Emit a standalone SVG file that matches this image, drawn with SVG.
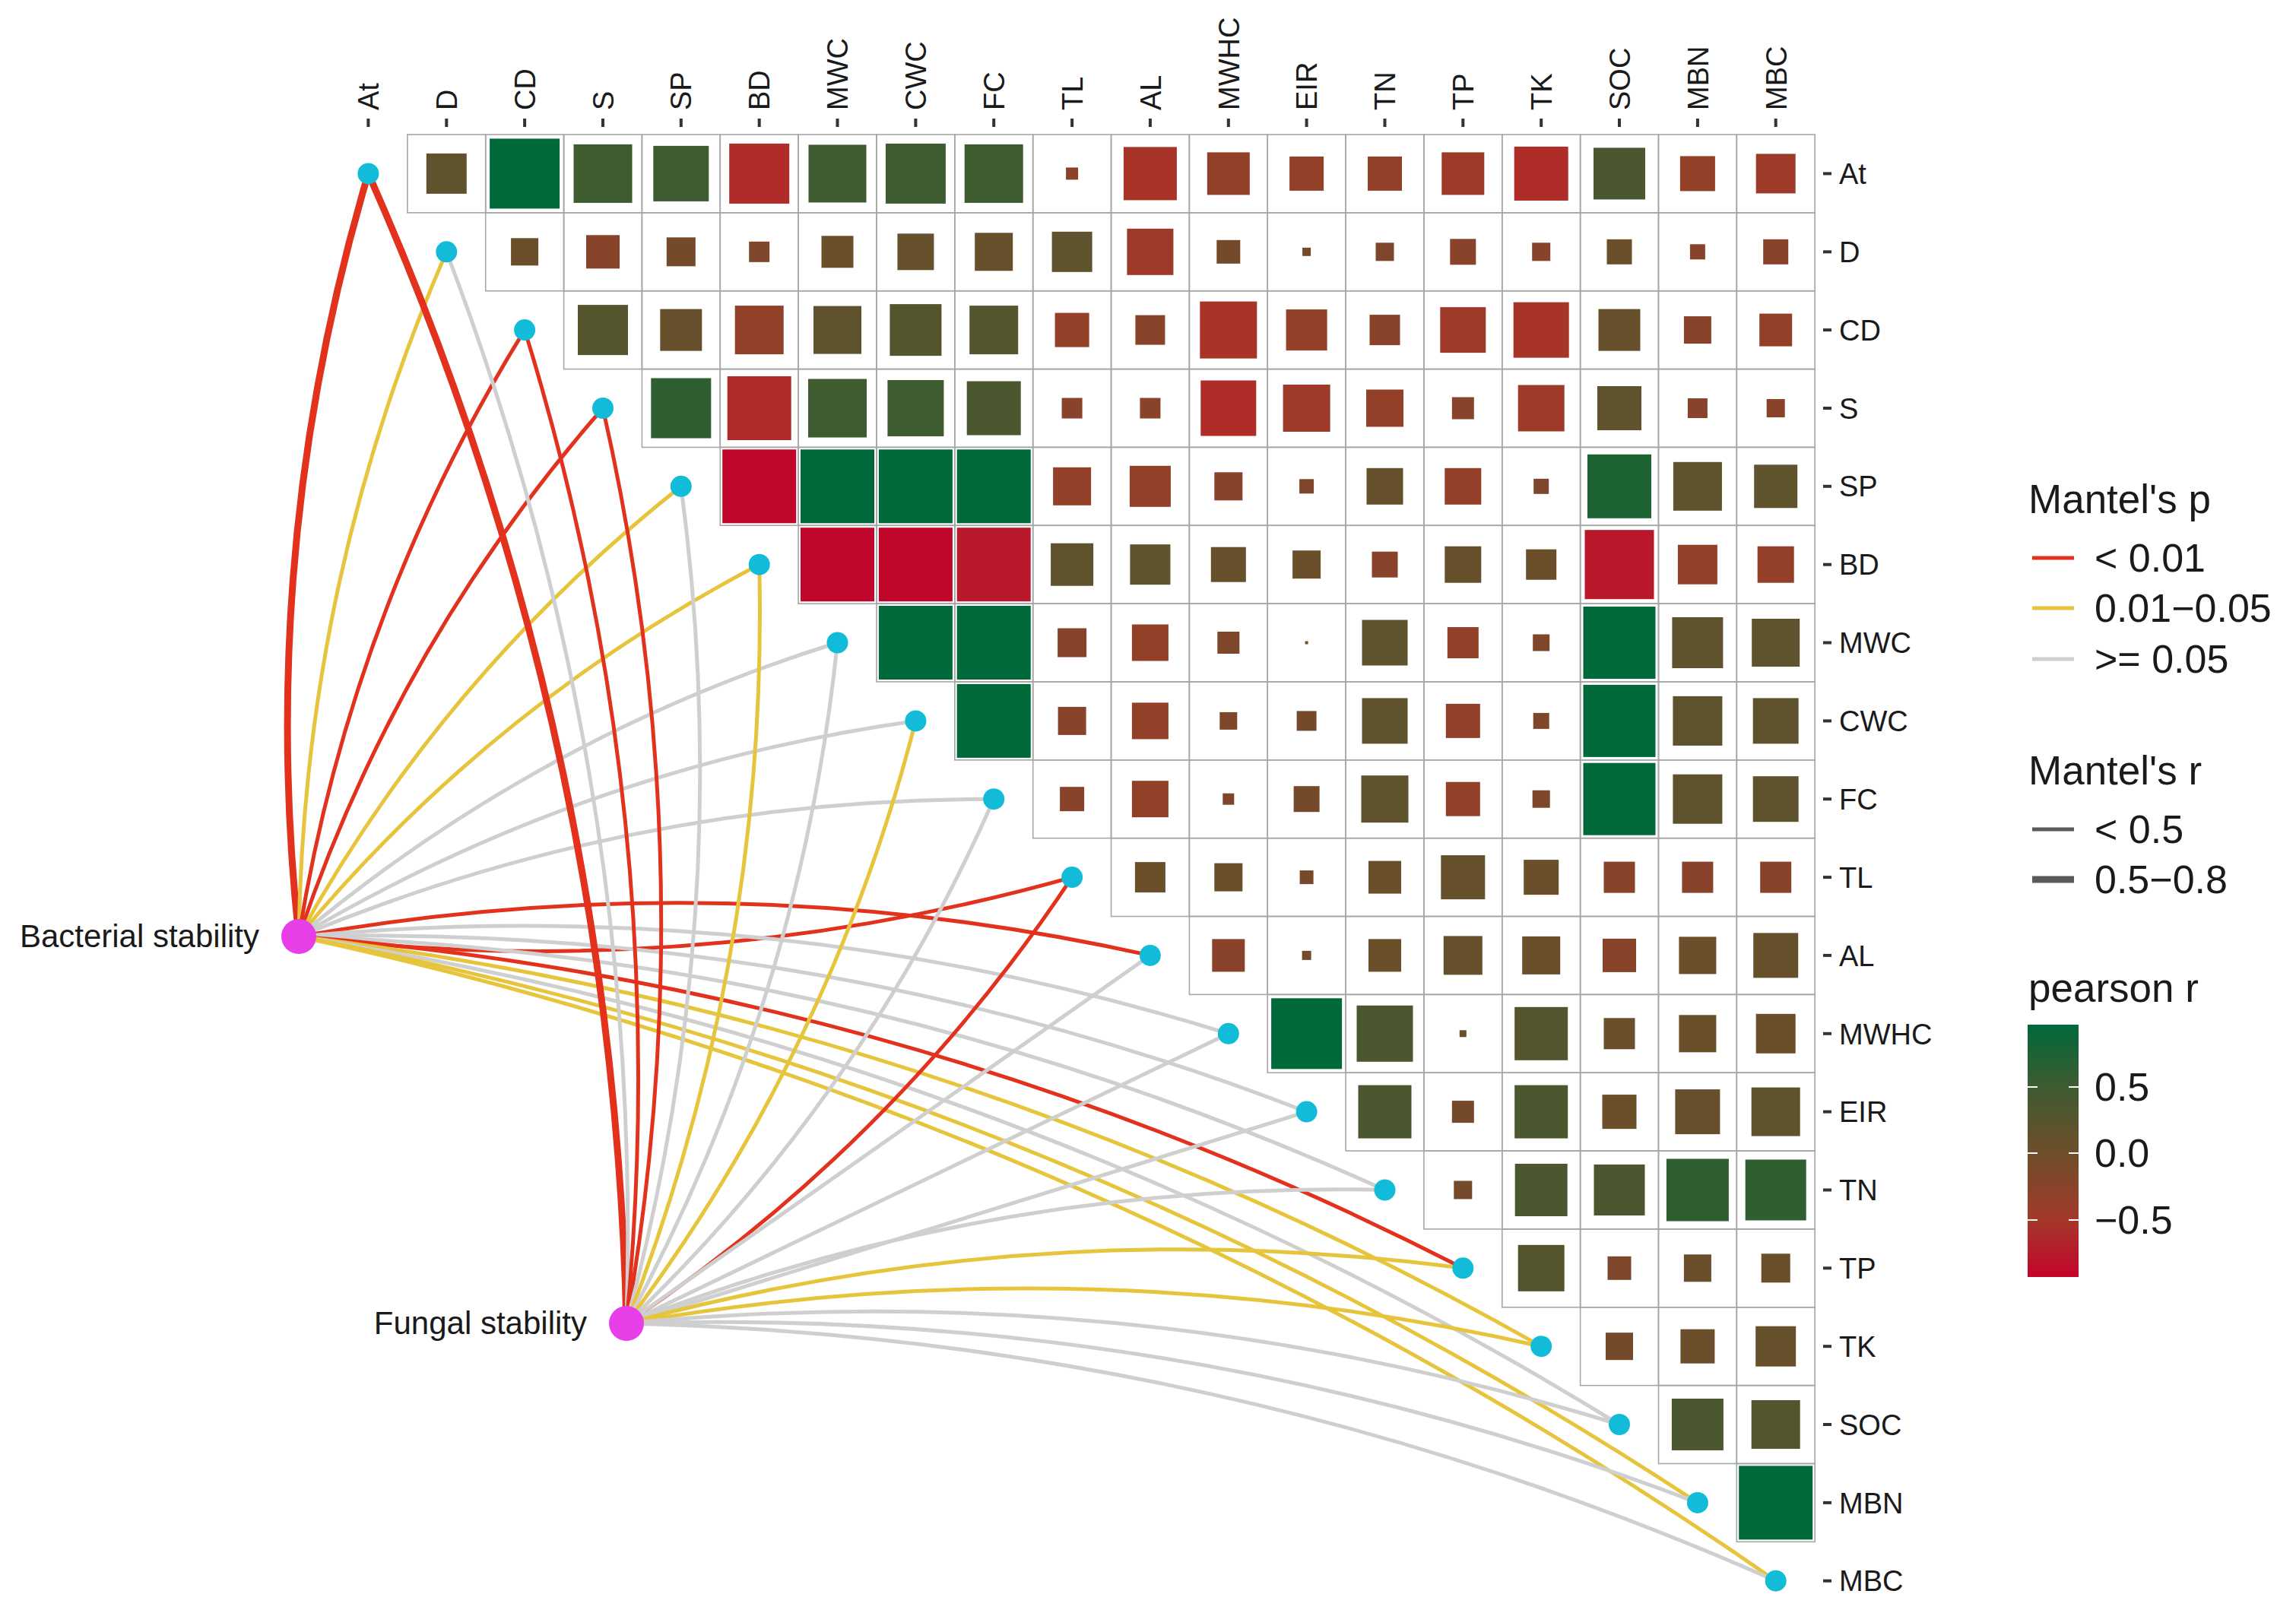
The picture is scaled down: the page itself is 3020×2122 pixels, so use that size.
<svg xmlns="http://www.w3.org/2000/svg" xmlns:xlink="http://www.w3.org/1999/xlink" width="3020" height="2122" viewBox="0 0 3020 2122">
<style>
text{font-family:"Liberation Sans",Arial,sans-serif;fill:#1a1a1a}
.lab{font-size:38px}
.leg{font-size:52px}
.ttl{font-size:53px}
.tk{stroke:#333;stroke-width:4}
.b{fill:none;stroke:#a6a6a6;stroke-width:1.6}
.e{fill:none;stroke-linecap:round}
.red{stroke:#e2321e}.yel{stroke:#e6c43c}.gry{stroke:#cfcfcf}
.w1{stroke-width:5}.w2{stroke-width:9}
.v{fill:#12bcd8}.n{fill:#e83ee8}
.G9{fill:#00693a}.G7{fill:#1d6334}.G6{fill:#2f5f31}.G5{fill:#3f5b30}.G4{fill:#4b582f}.G3{fill:#55552d}.G2{fill:#5e532c}.G1{fill:#65502b}.Z{fill:#6b4e2a}
.R1{fill:#744a2a}.R2{fill:#7e462a}.R3{fill:#88432a}.R4{fill:#934029}.R5{fill:#9e3a29}.R6{fill:#a83428}.R7{fill:#b02c28}.R8{fill:#b8182a}.R9{fill:#c0062a}
</style>
<defs>
<rect id="b" class="b" x="-51.4" y="-51.4" width="102.85" height="102.85"/>
<linearGradient id="grad" x1="0" y1="0" x2="0" y2="1">
<stop offset="0" stop-color="#00693a"/><stop offset="0.25" stop-color="#3f5b30"/><stop offset="0.51" stop-color="#6e4e2a"/><stop offset="0.77" stop-color="#a3392a"/><stop offset="1" stop-color="#c4042a"/>
</linearGradient>
</defs>
<rect width="3020" height="2122" fill="#fff"/>

<g id="matrix">
<g transform="translate(587.3 228.4)"><use href="#b"/><rect class="G2" x="-26.5" y="-26.5" width="53" height="53"/></g>
<g transform="translate(690.1 228.4)"><use href="#b"/><rect class="G9" x="-46" y="-46" width="92" height="92"/></g>
<g transform="translate(793 228.4)"><use href="#b"/><rect class="G5" x="-38.5" y="-38.5" width="77" height="77"/></g>
<g transform="translate(895.8 228.4)"><use href="#b"/><rect class="G5" x="-36.5" y="-36.5" width="73" height="73"/></g>
<g transform="translate(998.7 228.4)"><use href="#b"/><rect class="R7" x="-39.5" y="-39.5" width="79" height="79"/></g>
<g transform="translate(1101.5 228.4)"><use href="#b"/><rect class="G5" x="-38" y="-38" width="76" height="76"/></g>
<g transform="translate(1204.4 228.4)"><use href="#b"/><rect class="G5" x="-39.5" y="-39.5" width="79" height="79"/></g>
<g transform="translate(1307.2 228.4)"><use href="#b"/><rect class="G5" x="-38.5" y="-38.5" width="77" height="77"/></g>
<g transform="translate(1410.1 228.4)"><use href="#b"/><rect class="R3" x="-8" y="-8" width="16" height="16"/></g>
<g transform="translate(1512.9 228.4)"><use href="#b"/><rect class="R6" x="-35" y="-35" width="70" height="70"/></g>
<g transform="translate(1615.8 228.4)"><use href="#b"/><rect class="R4" x="-28" y="-28" width="56" height="56"/></g>
<g transform="translate(1718.6 228.4)"><use href="#b"/><rect class="R4" x="-22.5" y="-22.5" width="45" height="45"/></g>
<g transform="translate(1821.5 228.4)"><use href="#b"/><rect class="R4" x="-22.5" y="-22.5" width="45" height="45"/></g>
<g transform="translate(1924.3 228.4)"><use href="#b"/><rect class="R5" x="-28" y="-28" width="56" height="56"/></g>
<g transform="translate(2027.2 228.4)"><use href="#b"/><rect class="R7" x="-35.5" y="-35.5" width="71" height="71"/></g>
<g transform="translate(2130 228.4)"><use href="#b"/><rect class="G4" x="-34" y="-34" width="68" height="68"/></g>
<g transform="translate(2232.9 228.4)"><use href="#b"/><rect class="R4" x="-23" y="-23" width="46" height="46"/></g>
<g transform="translate(2335.7 228.4)"><use href="#b"/><rect class="R5" x="-26" y="-26" width="52" height="52"/></g>
<g transform="translate(690.1 331.3)"><use href="#b"/><rect class="Z" x="-18" y="-18" width="36" height="36"/></g>
<g transform="translate(793 331.3)"><use href="#b"/><rect class="R3" x="-22" y="-22" width="44" height="44"/></g>
<g transform="translate(895.8 331.3)"><use href="#b"/><rect class="R1" x="-19" y="-19" width="38" height="38"/></g>
<g transform="translate(998.7 331.3)"><use href="#b"/><rect class="R2" x="-13.5" y="-13.5" width="27" height="27"/></g>
<g transform="translate(1101.5 331.3)"><use href="#b"/><rect class="Z" x="-21" y="-21" width="42" height="42"/></g>
<g transform="translate(1204.4 331.3)"><use href="#b"/><rect class="G1" x="-24" y="-24" width="48" height="48"/></g>
<g transform="translate(1307.2 331.3)"><use href="#b"/><rect class="G1" x="-25" y="-25" width="50" height="50"/></g>
<g transform="translate(1410.1 331.3)"><use href="#b"/><rect class="G2" x="-26.5" y="-26.5" width="53" height="53"/></g>
<g transform="translate(1512.9 331.3)"><use href="#b"/><rect class="R5" x="-30.5" y="-30.5" width="61" height="61"/></g>
<g transform="translate(1615.8 331.3)"><use href="#b"/><rect class="R1" x="-15.5" y="-15.5" width="31" height="31"/></g>
<g transform="translate(1718.6 331.3)"><use href="#b"/><rect class="R1" x="-5.5" y="-5.5" width="11" height="11"/></g>
<g transform="translate(1821.5 331.3)"><use href="#b"/><rect class="R2" x="-12" y="-12" width="24" height="24"/></g>
<g transform="translate(1924.3 331.3)"><use href="#b"/><rect class="R3" x="-17" y="-17" width="34" height="34"/></g>
<g transform="translate(2027.2 331.3)"><use href="#b"/><rect class="R3" x="-12" y="-12" width="24" height="24"/></g>
<g transform="translate(2130 331.3)"><use href="#b"/><rect class="Z" x="-16.5" y="-16.5" width="33" height="33"/></g>
<g transform="translate(2232.9 331.3)"><use href="#b"/><rect class="R3" x="-10" y="-10" width="20" height="20"/></g>
<g transform="translate(2335.7 331.3)"><use href="#b"/><rect class="R3" x="-16.5" y="-16.5" width="33" height="33"/></g>
<g transform="translate(793 434.1)"><use href="#b"/><rect class="G3" x="-33" y="-33" width="66" height="66"/></g>
<g transform="translate(895.8 434.1)"><use href="#b"/><rect class="G1" x="-27.5" y="-27.5" width="55" height="55"/></g>
<g transform="translate(998.7 434.1)"><use href="#b"/><rect class="R4" x="-32" y="-32" width="64" height="64"/></g>
<g transform="translate(1101.5 434.1)"><use href="#b"/><rect class="G2" x="-31.5" y="-31.5" width="63" height="63"/></g>
<g transform="translate(1204.4 434.1)"><use href="#b"/><rect class="G3" x="-34" y="-34" width="68" height="68"/></g>
<g transform="translate(1307.2 434.1)"><use href="#b"/><rect class="G3" x="-32" y="-32" width="64" height="64"/></g>
<g transform="translate(1410.1 434.1)"><use href="#b"/><rect class="R4" x="-22.5" y="-22.5" width="45" height="45"/></g>
<g transform="translate(1512.9 434.1)"><use href="#b"/><rect class="R3" x="-19.5" y="-19.5" width="39" height="39"/></g>
<g transform="translate(1615.8 434.1)"><use href="#b"/><rect class="R6" x="-37.5" y="-37.5" width="75" height="75"/></g>
<g transform="translate(1718.6 434.1)"><use href="#b"/><rect class="R4" x="-27" y="-27" width="54" height="54"/></g>
<g transform="translate(1821.5 434.1)"><use href="#b"/><rect class="R3" x="-20" y="-20" width="40" height="40"/></g>
<g transform="translate(1924.3 434.1)"><use href="#b"/><rect class="R5" x="-30" y="-30" width="60" height="60"/></g>
<g transform="translate(2027.2 434.1)"><use href="#b"/><rect class="R6" x="-36.5" y="-36.5" width="73" height="73"/></g>
<g transform="translate(2130 434.1)"><use href="#b"/><rect class="G1" x="-27.5" y="-27.5" width="55" height="55"/></g>
<g transform="translate(2232.9 434.1)"><use href="#b"/><rect class="R3" x="-18" y="-18" width="36" height="36"/></g>
<g transform="translate(2335.7 434.1)"><use href="#b"/><rect class="R4" x="-21.5" y="-21.5" width="43" height="43"/></g>
<g transform="translate(895.8 537)"><use href="#b"/><rect class="G6" x="-39.5" y="-39.5" width="79" height="79"/></g>
<g transform="translate(998.7 537)"><use href="#b"/><rect class="R7" x="-42" y="-42" width="84" height="84"/></g>
<g transform="translate(1101.5 537)"><use href="#b"/><rect class="G5" x="-38.5" y="-38.5" width="77" height="77"/></g>
<g transform="translate(1204.4 537)"><use href="#b"/><rect class="G5" x="-37" y="-37" width="74" height="74"/></g>
<g transform="translate(1307.2 537)"><use href="#b"/><rect class="G4" x="-35.5" y="-35.5" width="71" height="71"/></g>
<g transform="translate(1410.1 537)"><use href="#b"/><rect class="R3" x="-13.5" y="-13.5" width="27" height="27"/></g>
<g transform="translate(1512.9 537)"><use href="#b"/><rect class="R3" x="-13.5" y="-13.5" width="27" height="27"/></g>
<g transform="translate(1615.8 537)"><use href="#b"/><rect class="R7" x="-36.5" y="-36.5" width="73" height="73"/></g>
<g transform="translate(1718.6 537)"><use href="#b"/><rect class="R5" x="-31" y="-31" width="62" height="62"/></g>
<g transform="translate(1821.5 537)"><use href="#b"/><rect class="R4" x="-24.5" y="-24.5" width="49" height="49"/></g>
<g transform="translate(1924.3 537)"><use href="#b"/><rect class="R3" x="-14.5" y="-14.5" width="29" height="29"/></g>
<g transform="translate(2027.2 537)"><use href="#b"/><rect class="R5" x="-30.5" y="-30.5" width="61" height="61"/></g>
<g transform="translate(2130 537)"><use href="#b"/><rect class="G2" x="-29" y="-29" width="58" height="58"/></g>
<g transform="translate(2232.9 537)"><use href="#b"/><rect class="R3" x="-13" y="-13" width="26" height="26"/></g>
<g transform="translate(2335.7 537)"><use href="#b"/><rect class="R3" x="-12" y="-12" width="24" height="24"/></g>
<g transform="translate(998.7 639.8)"><use href="#b"/><rect class="R9" x="-48.5" y="-48.5" width="97" height="97"/></g>
<g transform="translate(1101.5 639.8)"><use href="#b"/><rect class="G9" x="-48.5" y="-48.5" width="97" height="97"/></g>
<g transform="translate(1204.4 639.8)"><use href="#b"/><rect class="G9" x="-48.5" y="-48.5" width="97" height="97"/></g>
<g transform="translate(1307.2 639.8)"><use href="#b"/><rect class="G9" x="-48.5" y="-48.5" width="97" height="97"/></g>
<g transform="translate(1410.1 639.8)"><use href="#b"/><rect class="R4" x="-25" y="-25" width="50" height="50"/></g>
<g transform="translate(1512.9 639.8)"><use href="#b"/><rect class="R4" x="-27" y="-27" width="54" height="54"/></g>
<g transform="translate(1615.8 639.8)"><use href="#b"/><rect class="R3" x="-18.5" y="-18.5" width="37" height="37"/></g>
<g transform="translate(1718.6 639.8)"><use href="#b"/><rect class="R2" x="-9.5" y="-9.5" width="19" height="19"/></g>
<g transform="translate(1821.5 639.8)"><use href="#b"/><rect class="G1" x="-24" y="-24" width="48" height="48"/></g>
<g transform="translate(1924.3 639.8)"><use href="#b"/><rect class="R4" x="-24" y="-24" width="48" height="48"/></g>
<g transform="translate(2027.2 639.8)"><use href="#b"/><rect class="R2" x="-10" y="-10" width="20" height="20"/></g>
<g transform="translate(2130 639.8)"><use href="#b"/><rect class="G7" x="-42" y="-42" width="84" height="84"/></g>
<g transform="translate(2232.9 639.8)"><use href="#b"/><rect class="G2" x="-32" y="-32" width="64" height="64"/></g>
<g transform="translate(2335.7 639.8)"><use href="#b"/><rect class="G2" x="-28.5" y="-28.5" width="57" height="57"/></g>
<g transform="translate(1101.5 742.7)"><use href="#b"/><rect class="R9" x="-48.5" y="-48.5" width="97" height="97"/></g>
<g transform="translate(1204.4 742.7)"><use href="#b"/><rect class="R9" x="-48.5" y="-48.5" width="97" height="97"/></g>
<g transform="translate(1307.2 742.7)"><use href="#b"/><rect class="R8" x="-48.5" y="-48.5" width="97" height="97"/></g>
<g transform="translate(1410.1 742.7)"><use href="#b"/><rect class="G2" x="-28" y="-28" width="56" height="56"/></g>
<g transform="translate(1512.9 742.7)"><use href="#b"/><rect class="G2" x="-26.5" y="-26.5" width="53" height="53"/></g>
<g transform="translate(1615.8 742.7)"><use href="#b"/><rect class="G1" x="-23" y="-23" width="46" height="46"/></g>
<g transform="translate(1718.6 742.7)"><use href="#b"/><rect class="Z" x="-18.5" y="-18.5" width="37" height="37"/></g>
<g transform="translate(1821.5 742.7)"><use href="#b"/><rect class="R3" x="-17" y="-17" width="34" height="34"/></g>
<g transform="translate(1924.3 742.7)"><use href="#b"/><rect class="G1" x="-24" y="-24" width="48" height="48"/></g>
<g transform="translate(2027.2 742.7)"><use href="#b"/><rect class="Z" x="-20" y="-20" width="40" height="40"/></g>
<g transform="translate(2130 742.7)"><use href="#b"/><rect class="R8" x="-45.5" y="-45.5" width="91" height="91"/></g>
<g transform="translate(2232.9 742.7)"><use href="#b"/><rect class="R4" x="-26" y="-26" width="52" height="52"/></g>
<g transform="translate(2335.7 742.7)"><use href="#b"/><rect class="R4" x="-24" y="-24" width="48" height="48"/></g>
<g transform="translate(1204.4 845.5)"><use href="#b"/><rect class="G9" x="-48.5" y="-48.5" width="97" height="97"/></g>
<g transform="translate(1307.2 845.5)"><use href="#b"/><rect class="G9" x="-48.5" y="-48.5" width="97" height="97"/></g>
<g transform="translate(1410.1 845.5)"><use href="#b"/><rect class="R3" x="-19" y="-19" width="38" height="38"/></g>
<g transform="translate(1512.9 845.5)"><use href="#b"/><rect class="R4" x="-24" y="-24" width="48" height="48"/></g>
<g transform="translate(1615.8 845.5)"><use href="#b"/><rect class="R2" x="-14.5" y="-14.5" width="29" height="29"/></g>
<g transform="translate(1718.6 845.5)"><use href="#b"/><rect class="Z" x="-2" y="-2" width="4" height="4"/></g>
<g transform="translate(1821.5 845.5)"><use href="#b"/><rect class="G2" x="-30" y="-30" width="60" height="60"/></g>
<g transform="translate(1924.3 845.5)"><use href="#b"/><rect class="R4" x="-20.5" y="-20.5" width="41" height="41"/></g>
<g transform="translate(2027.2 845.5)"><use href="#b"/><rect class="R2" x="-11" y="-11" width="22" height="22"/></g>
<g transform="translate(2130 845.5)"><use href="#b"/><rect class="G9" x="-47.5" y="-47.5" width="95" height="95"/></g>
<g transform="translate(2232.9 845.5)"><use href="#b"/><rect class="G2" x="-33.5" y="-33.5" width="67" height="67"/></g>
<g transform="translate(2335.7 845.5)"><use href="#b"/><rect class="G2" x="-31.5" y="-31.5" width="63" height="63"/></g>
<g transform="translate(1307.2 948.4)"><use href="#b"/><rect class="G9" x="-48.5" y="-48.5" width="97" height="97"/></g>
<g transform="translate(1410.1 948.4)"><use href="#b"/><rect class="R3" x="-18.5" y="-18.5" width="37" height="37"/></g>
<g transform="translate(1512.9 948.4)"><use href="#b"/><rect class="R4" x="-24" y="-24" width="48" height="48"/></g>
<g transform="translate(1615.8 948.4)"><use href="#b"/><rect class="R2" x="-11.5" y="-11.5" width="23" height="23"/></g>
<g transform="translate(1718.6 948.4)"><use href="#b"/><rect class="R1" x="-13" y="-13" width="26" height="26"/></g>
<g transform="translate(1821.5 948.4)"><use href="#b"/><rect class="G2" x="-30" y="-30" width="60" height="60"/></g>
<g transform="translate(1924.3 948.4)"><use href="#b"/><rect class="R4" x="-22.5" y="-22.5" width="45" height="45"/></g>
<g transform="translate(2027.2 948.4)"><use href="#b"/><rect class="R2" x="-10.5" y="-10.5" width="21" height="21"/></g>
<g transform="translate(2130 948.4)"><use href="#b"/><rect class="G9" x="-47.5" y="-47.5" width="95" height="95"/></g>
<g transform="translate(2232.9 948.4)"><use href="#b"/><rect class="G2" x="-32.5" y="-32.5" width="65" height="65"/></g>
<g transform="translate(2335.7 948.4)"><use href="#b"/><rect class="G2" x="-30" y="-30" width="60" height="60"/></g>
<g transform="translate(1410.1 1051.2)"><use href="#b"/><rect class="R3" x="-16" y="-16" width="32" height="32"/></g>
<g transform="translate(1512.9 1051.2)"><use href="#b"/><rect class="R4" x="-24" y="-24" width="48" height="48"/></g>
<g transform="translate(1615.8 1051.2)"><use href="#b"/><rect class="R2" x="-7.5" y="-7.5" width="15" height="15"/></g>
<g transform="translate(1718.6 1051.2)"><use href="#b"/><rect class="R1" x="-17" y="-17" width="34" height="34"/></g>
<g transform="translate(1821.5 1051.2)"><use href="#b"/><rect class="G2" x="-31" y="-31" width="62" height="62"/></g>
<g transform="translate(1924.3 1051.2)"><use href="#b"/><rect class="R4" x="-22.5" y="-22.5" width="45" height="45"/></g>
<g transform="translate(2027.2 1051.2)"><use href="#b"/><rect class="R2" x="-11.5" y="-11.5" width="23" height="23"/></g>
<g transform="translate(2130 1051.2)"><use href="#b"/><rect class="G9" x="-47.5" y="-47.5" width="95" height="95"/></g>
<g transform="translate(2232.9 1051.2)"><use href="#b"/><rect class="G2" x="-32.5" y="-32.5" width="65" height="65"/></g>
<g transform="translate(2335.7 1051.2)"><use href="#b"/><rect class="G2" x="-30" y="-30" width="60" height="60"/></g>
<g transform="translate(1512.9 1154.1)"><use href="#b"/><rect class="Z" x="-20" y="-20" width="40" height="40"/></g>
<g transform="translate(1615.8 1154.1)"><use href="#b"/><rect class="Z" x="-18.5" y="-18.5" width="37" height="37"/></g>
<g transform="translate(1718.6 1154.1)"><use href="#b"/><rect class="R1" x="-9" y="-9" width="18" height="18"/></g>
<g transform="translate(1821.5 1154.1)"><use href="#b"/><rect class="Z" x="-21.5" y="-21.5" width="43" height="43"/></g>
<g transform="translate(1924.3 1154.1)"><use href="#b"/><rect class="G1" x="-29" y="-29" width="58" height="58"/></g>
<g transform="translate(2027.2 1154.1)"><use href="#b"/><rect class="Z" x="-23" y="-23" width="46" height="46"/></g>
<g transform="translate(2130 1154.1)"><use href="#b"/><rect class="R3" x="-20.5" y="-20.5" width="41" height="41"/></g>
<g transform="translate(2232.9 1154.1)"><use href="#b"/><rect class="R3" x="-20.5" y="-20.5" width="41" height="41"/></g>
<g transform="translate(2335.7 1154.1)"><use href="#b"/><rect class="R3" x="-20.5" y="-20.5" width="41" height="41"/></g>
<g transform="translate(1615.8 1256.9)"><use href="#b"/><rect class="R3" x="-21.5" y="-21.5" width="43" height="43"/></g>
<g transform="translate(1718.6 1256.9)"><use href="#b"/><rect class="R1" x="-6" y="-6" width="12" height="12"/></g>
<g transform="translate(1821.5 1256.9)"><use href="#b"/><rect class="Z" x="-21.5" y="-21.5" width="43" height="43"/></g>
<g transform="translate(1924.3 1256.9)"><use href="#b"/><rect class="G1" x="-25.5" y="-25.5" width="51" height="51"/></g>
<g transform="translate(2027.2 1256.9)"><use href="#b"/><rect class="Z" x="-25" y="-25" width="50" height="50"/></g>
<g transform="translate(2130 1256.9)"><use href="#b"/><rect class="R3" x="-22" y="-22" width="44" height="44"/></g>
<g transform="translate(2232.9 1256.9)"><use href="#b"/><rect class="Z" x="-24.5" y="-24.5" width="49" height="49"/></g>
<g transform="translate(2335.7 1256.9)"><use href="#b"/><rect class="G1" x="-29.5" y="-29.5" width="59" height="59"/></g>
<g transform="translate(1718.6 1359.8)"><use href="#b"/><rect class="G9" x="-46.5" y="-46.5" width="93" height="93"/></g>
<g transform="translate(1821.5 1359.8)"><use href="#b"/><rect class="G4" x="-37" y="-37" width="74" height="74"/></g>
<g transform="translate(1924.3 1359.8)"><use href="#b"/><rect class="Z" x="-4.5" y="-4.5" width="9" height="9"/></g>
<g transform="translate(2027.2 1359.8)"><use href="#b"/><rect class="G3" x="-35" y="-35" width="70" height="70"/></g>
<g transform="translate(2130 1359.8)"><use href="#b"/><rect class="Z" x="-20.5" y="-20.5" width="41" height="41"/></g>
<g transform="translate(2232.9 1359.8)"><use href="#b"/><rect class="Z" x="-24.5" y="-24.5" width="49" height="49"/></g>
<g transform="translate(2335.7 1359.8)"><use href="#b"/><rect class="Z" x="-26" y="-26" width="52" height="52"/></g>
<g transform="translate(1821.5 1462.6)"><use href="#b"/><rect class="G4" x="-35" y="-35" width="70" height="70"/></g>
<g transform="translate(1924.3 1462.6)"><use href="#b"/><rect class="R1" x="-14.5" y="-14.5" width="29" height="29"/></g>
<g transform="translate(2027.2 1462.6)"><use href="#b"/><rect class="G4" x="-35" y="-35" width="70" height="70"/></g>
<g transform="translate(2130 1462.6)"><use href="#b"/><rect class="Z" x="-22.5" y="-22.5" width="45" height="45"/></g>
<g transform="translate(2232.9 1462.6)"><use href="#b"/><rect class="G1" x="-29.5" y="-29.5" width="59" height="59"/></g>
<g transform="translate(2335.7 1462.6)"><use href="#b"/><rect class="G2" x="-32" y="-32" width="64" height="64"/></g>
<g transform="translate(1924.3 1565.5)"><use href="#b"/><rect class="R1" x="-12" y="-12" width="24" height="24"/></g>
<g transform="translate(2027.2 1565.5)"><use href="#b"/><rect class="G4" x="-34.5" y="-34.5" width="69" height="69"/></g>
<g transform="translate(2130 1565.5)"><use href="#b"/><rect class="G4" x="-33.5" y="-33.5" width="67" height="67"/></g>
<g transform="translate(2232.9 1565.5)"><use href="#b"/><rect class="G6" x="-41" y="-41" width="82" height="82"/></g>
<g transform="translate(2335.7 1565.5)"><use href="#b"/><rect class="G6" x="-40" y="-40" width="80" height="80"/></g>
<g transform="translate(2027.2 1668.3)"><use href="#b"/><rect class="G3" x="-30.5" y="-30.5" width="61" height="61"/></g>
<g transform="translate(2130 1668.3)"><use href="#b"/><rect class="R2" x="-15.5" y="-15.5" width="31" height="31"/></g>
<g transform="translate(2232.9 1668.3)"><use href="#b"/><rect class="Z" x="-18" y="-18" width="36" height="36"/></g>
<g transform="translate(2335.7 1668.3)"><use href="#b"/><rect class="Z" x="-19" y="-19" width="38" height="38"/></g>
<g transform="translate(2130 1771.2)"><use href="#b"/><rect class="R1" x="-18" y="-18" width="36" height="36"/></g>
<g transform="translate(2232.9 1771.2)"><use href="#b"/><rect class="Z" x="-22.5" y="-22.5" width="45" height="45"/></g>
<g transform="translate(2335.7 1771.2)"><use href="#b"/><rect class="G1" x="-26.5" y="-26.5" width="53" height="53"/></g>
<g transform="translate(2232.9 1874)"><use href="#b"/><rect class="G4" x="-34" y="-34" width="68" height="68"/></g>
<g transform="translate(2335.7 1874)"><use href="#b"/><rect class="G3" x="-32" y="-32" width="64" height="64"/></g>
<g transform="translate(2335.7 1976.9)"><use href="#b"/><rect class="G9" x="-48.5" y="-48.5" width="97" height="97"/></g>
</g>

<g id="axis-top" class="lab">
<g class="tk">
<line x1="484.4" y1="156" x2="484.4" y2="167"/><line x1="587.3" y1="156" x2="587.3" y2="167"/><line x1="690.1" y1="156" x2="690.1" y2="167"/><line x1="793" y1="156" x2="793" y2="167"/><line x1="895.8" y1="156" x2="895.8" y2="167"/><line x1="998.7" y1="156" x2="998.7" y2="167"/><line x1="1101.5" y1="156" x2="1101.5" y2="167"/><line x1="1204.4" y1="156" x2="1204.4" y2="167"/><line x1="1307.2" y1="156" x2="1307.2" y2="167"/><line x1="1410.1" y1="156" x2="1410.1" y2="167"/><line x1="1512.9" y1="156" x2="1512.9" y2="167"/><line x1="1615.8" y1="156" x2="1615.8" y2="167"/><line x1="1718.6" y1="156" x2="1718.6" y2="167"/><line x1="1821.5" y1="156" x2="1821.5" y2="167"/><line x1="1924.3" y1="156" x2="1924.3" y2="167"/><line x1="2027.2" y1="156" x2="2027.2" y2="167"/><line x1="2130" y1="156" x2="2130" y2="167"/><line x1="2232.9" y1="156" x2="2232.9" y2="167"/><line x1="2335.7" y1="156" x2="2335.7" y2="167"/>
</g>
<text transform="translate(498 145) rotate(-90)">At</text>
<text transform="translate(601 145) rotate(-90)">D</text>
<text transform="translate(704 145) rotate(-90)">CD</text>
<text transform="translate(807 145) rotate(-90)">S</text>
<text transform="translate(909 145) rotate(-90)">SP</text>
<text transform="translate(1012 145) rotate(-90)">BD</text>
<text transform="translate(1115 145) rotate(-90)">MWC</text>
<text transform="translate(1218 145) rotate(-90)">CWC</text>
<text transform="translate(1321 145) rotate(-90)">FC</text>
<text transform="translate(1424 145) rotate(-90)">TL</text>
<text transform="translate(1527 145) rotate(-90)">AL</text>
<text transform="translate(1630 145) rotate(-90)">MWHC</text>
<text transform="translate(1732 145) rotate(-90)">EIR</text>
<text transform="translate(1835 145) rotate(-90)">TN</text>
<text transform="translate(1938 145) rotate(-90)">TP</text>
<text transform="translate(2041 145) rotate(-90)">TK</text>
<text transform="translate(2144 145) rotate(-90)">SOC</text>
<text transform="translate(2247 145) rotate(-90)">MBN</text>
<text transform="translate(2350 145) rotate(-90)">MBC</text>
</g>

<g id="axis-right" class="lab">
<g class="tk">
<line x1="2398" y1="228.4" x2="2409" y2="228.4"/><line x1="2398" y1="331.3" x2="2409" y2="331.3"/><line x1="2398" y1="434.1" x2="2409" y2="434.1"/><line x1="2398" y1="537" x2="2409" y2="537"/><line x1="2398" y1="639.8" x2="2409" y2="639.8"/><line x1="2398" y1="742.7" x2="2409" y2="742.7"/><line x1="2398" y1="845.5" x2="2409" y2="845.5"/><line x1="2398" y1="948.4" x2="2409" y2="948.4"/><line x1="2398" y1="1051.2" x2="2409" y2="1051.2"/><line x1="2398" y1="1154.1" x2="2409" y2="1154.1"/><line x1="2398" y1="1256.9" x2="2409" y2="1256.9"/><line x1="2398" y1="1359.8" x2="2409" y2="1359.8"/><line x1="2398" y1="1462.6" x2="2409" y2="1462.6"/><line x1="2398" y1="1565.5" x2="2409" y2="1565.5"/><line x1="2398" y1="1668.3" x2="2409" y2="1668.3"/><line x1="2398" y1="1771.2" x2="2409" y2="1771.2"/><line x1="2398" y1="1874" x2="2409" y2="1874"/><line x1="2398" y1="1976.9" x2="2409" y2="1976.9"/><line x1="2398" y1="2079.7" x2="2409" y2="2079.7"/>
</g>
<text x="2419" y="242">At</text><text x="2419" y="345">D</text><text x="2419" y="448">CD</text><text x="2419" y="551">S</text><text x="2419" y="653">SP</text><text x="2419" y="756">BD</text><text x="2419" y="859">MWC</text><text x="2419" y="962">CWC</text><text x="2419" y="1065">FC</text><text x="2419" y="1168">TL</text><text x="2419" y="1271">AL</text><text x="2419" y="1374">MWHC</text><text x="2419" y="1476">EIR</text><text x="2419" y="1579">TN</text><text x="2419" y="1682">TP</text><text x="2419" y="1785">TK</text><text x="2419" y="1888">SOC</text><text x="2419" y="1991">MBN</text><text x="2419" y="2093">MBC</text>
</g>

<g id="connectors" class="e">
<path class="red w2" d="M393 1232Q338.3 721.1 484.4 228.4"/>
<path class="yel w1" d="M393 1232Q400.1 762.3 587.3 331.3"/>
<path class="red w1" d="M393 1232Q461.8 803.4 690.1 434.1"/>
<path class="red w1" d="M393 1232Q523.5 844.5 793 537"/>
<path class="yel w1" d="M393 1232Q585.2 885.6 895.8 639.8"/>
<path class="yel w1" d="M393 1232Q647 926.8 998.7 742.7"/>
<path class="gry w1" d="M393 1232Q708.6 968 1101.5 845.5"/>
<path class="gry w1" d="M393 1232Q770.3 1009.1 1204.4 948.4"/>
<path class="gry w1" d="M393 1232Q832 1050.2 1307.2 1051.2"/>
<path class="red w1" d="M393 1232Q909.4 1294.8 1410.1 1154.1"/>
<path class="red w1" d="M393 1232Q955.5 1132.5 1512.9 1256.9"/>
<path class="gry w1" d="M393 1232Q1017.2 1173.6 1615.8 1359.8"/>
<path class="gry w1" d="M393 1232Q1078.9 1214.7 1718.6 1462.6"/>
<path class="gry w1" d="M393 1232Q1140.6 1255.9 1821.5 1565.5"/>
<path class="red w1" d="M393 1232Q1202.3 1297.1 1924.3 1668.3"/>
<path class="yel w1" d="M393 1232Q1264 1338.2 2027.2 1771.2"/>
<path class="gry w1" d="M393 1232Q1325.7 1379.3 2130 1874"/>
<path class="yel w1" d="M393 1232Q1387.4 1420.5 2232.9 1976.9"/>
<path class="yel w1" d="M393 1232Q1449.2 1461.6 2335.7 2079.7"/>
<path class="red w2" d="M824 1741Q805.5 950.7 484.4 228.4"/>
<path class="gry w1" d="M824 1741Q846.7 1012.5 587.3 331.3"/>
<path class="red w1" d="M824 1741Q887.8 1074.2 690.1 434.1"/>
<path class="red w1" d="M824 1741Q928.9 1135.9 793 537"/>
<path class="gry w1" d="M824 1741Q970 1197.6 895.8 639.8"/>
<path class="yel w1" d="M824 1741Q1011.2 1259.4 998.7 742.7"/>
<path class="gry w1" d="M824 1741Q1052.3 1321.1 1101.5 845.5"/>
<path class="yel w1" d="M824 1741Q1093.5 1382.7 1204.4 948.4"/>
<path class="gry w1" d="M824 1741Q1134.6 1444.4 1307.2 1051.2"/>
<path class="red w1" d="M824 1741Q1175.8 1506.2 1410.1 1154.1"/>
<path class="gry w1" d="M824 1741L1512.9 1256.9"/>
<path class="gry w1" d="M824 1741L1615.8 1359.8"/>
<path class="gry w1" d="M824 1741L1718.6 1462.6"/>
<path class="gry w1" d="M824 1741Q1305.2 1553.5 1821.5 1565.5"/>
<path class="yel w1" d="M824 1741Q1366.9 1594.7 1924.3 1668.3"/>
<path class="yel w1" d="M824 1741Q1428.6 1635.8 2027.2 1771.2"/>
<path class="gry w1" d="M824 1741Q1490.3 1676.9 2130 1874"/>
<path class="gry w1" d="M824 1741Q1552.1 1718.1 2232.9 1976.9"/>
<path class="gry w1" d="M824 1741Q1613.8 1759.2 2335.7 2079.7"/>
</g>

<g id="var-nodes">
<circle id="n-At" class="v" cx="484.4" cy="228.4" r="14"/>
<circle id="n-D" class="v" cx="587.3" cy="331.3" r="14"/>
<circle id="n-CD" class="v" cx="690.1" cy="434.1" r="14"/>
<circle id="n-S" class="v" cx="793" cy="537" r="14"/>
<circle id="n-SP" class="v" cx="895.8" cy="639.8" r="14"/>
<circle id="n-BD" class="v" cx="998.7" cy="742.7" r="14"/>
<circle id="n-MWC" class="v" cx="1101.5" cy="845.5" r="14"/>
<circle id="n-CWC" class="v" cx="1204.4" cy="948.4" r="14"/>
<circle id="n-FC" class="v" cx="1307.2" cy="1051.2" r="14"/>
<circle id="n-TL" class="v" cx="1410.1" cy="1154.1" r="14"/>
<circle id="n-AL" class="v" cx="1512.9" cy="1256.9" r="14"/>
<circle id="n-MWHC" class="v" cx="1615.8" cy="1359.8" r="14"/>
<circle id="n-EIR" class="v" cx="1718.6" cy="1462.6" r="14"/>
<circle id="n-TN" class="v" cx="1821.5" cy="1565.5" r="14"/>
<circle id="n-TP" class="v" cx="1924.3" cy="1668.3" r="14"/>
<circle id="n-TK" class="v" cx="2027.2" cy="1771.2" r="14"/>
<circle id="n-SOC" class="v" cx="2130" cy="1874" r="14"/>
<circle id="n-MBN" class="v" cx="2232.9" cy="1976.9" r="14"/>
<circle id="n-MBC" class="v" cx="2335.7" cy="2079.7" r="14"/>
</g>

<g id="bacterial">
<circle class="n" cx="393" cy="1232" r="23"/>
<text x="341" y="1246" font-size="42" text-anchor="end">Bacterial stability</text>
</g>
<g id="fungal">
<circle class="n" cx="824" cy="1741" r="23"/>
<text x="772" y="1755" font-size="42" text-anchor="end">Fungal stability</text>
</g>

<g id="legend">
<text class="ttl" x="2668" y="675">Mantel's p</text>
<line x1="2673" y1="734" x2="2728" y2="734" stroke="#e2321e" stroke-width="5"/>
<text class="leg" x="2755" y="752">&lt; 0.01</text>
<line x1="2673" y1="800" x2="2728" y2="800" stroke="#e6c43c" stroke-width="5"/>
<text class="leg" x="2755" y="818">0.01−0.05</text>
<line x1="2673" y1="867" x2="2728" y2="867" stroke="#cfcfcf" stroke-width="5"/>
<text class="leg" x="2755" y="885">&gt;= 0.05</text>
<text class="ttl" x="2668" y="1032">Mantel's r</text>
<line x1="2673" y1="1091" x2="2728" y2="1091" stroke="#5a5a5a" stroke-width="5"/>
<text class="leg" x="2755" y="1109">&lt; 0.5</text>
<line x1="2673" y1="1157" x2="2728" y2="1157" stroke="#5a5a5a" stroke-width="9"/>
<text class="leg" x="2755" y="1175">0.5−0.8</text>
<text class="ttl" x="2668" y="1318">pearson r</text>
<rect x="2667" y="1348" width="67" height="332" fill="url(#grad)"/>
<g stroke="#fff" stroke-width="2">
<line x1="2667" y1="1430" x2="2680" y2="1430"/><line x1="2721" y1="1430" x2="2734" y2="1430"/>
<line x1="2667" y1="1517" x2="2680" y2="1517"/><line x1="2721" y1="1517" x2="2734" y2="1517"/>
<line x1="2667" y1="1605" x2="2680" y2="1605"/><line x1="2721" y1="1605" x2="2734" y2="1605"/>
</g>
<text class="leg" x="2755" y="1448">0.5</text>
<text class="leg" x="2755" y="1535">0.0</text>
<text class="leg" x="2755" y="1623">−0.5</text>
</g>
</svg>
